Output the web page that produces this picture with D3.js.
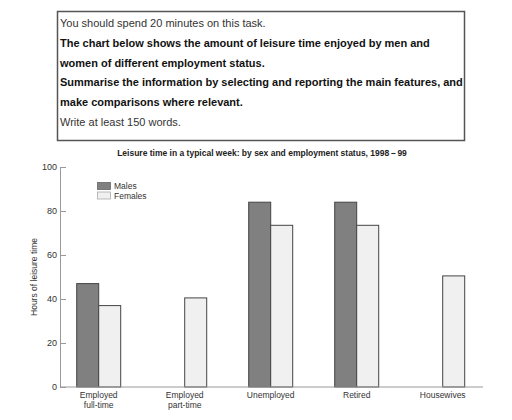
<!DOCTYPE html>
<html><head><meta charset="utf-8">
<script src="https://cdn.jsdelivr.net/npm/d3@7"></script>
<style>body{margin:0;background:#fff}svg{display:block}</style>
</head><body>
<svg id="c" width="512" height="420"></svg>
<script>
const categories = ["Employed\nfull-time", "Employed\npart-time", "Unemployed", "Retired", "Housewives"];
const males = [47, null, 84, 84, null];
const females = [37, 40.5, 73.5, 73.5, 50.5];
const series = ["Males", "Females"];
const yTicks = [0, 20, 40, 60, 80, 100];
const taskLines = [
  {t: "You should spend 20 minutes on this task.", b: false},
  {t: "The chart below shows the amount of leisure time enjoyed by men and", b: true},
  {t: "women of different employment status.", b: true},
  {t: "Summarise the information by selecting and reporting the main features, and", b: true},
  {t: "make comparisons where relevant.", b: true},
  {t: "Write at least 150 words.", b: false}
];
const title = "Leisure time in a typical week: by sex and employment status, 1998\u2009\u2013\u200999";
const yLabel = "Hours of leisure time";

const svg = d3.select("#c");
const font = "Liberation Sans, Arial, sans-serif";
const colors = {Males: "#808080", Females: "#f0f0f0"};

// task box
svg.append("rect").attr("x", 57.5).attr("y", 11.5).attr("width", 407).attr("height", 129)
  .attr("fill", "#fff").attr("stroke", "#555").attr("stroke-width", 1.5);
svg.selectAll("text.task").data(taskLines).join("text")
  .attr("class", "task")
  .attr("x", 60).attr("y", (d, i) => 27 + i * 19.8)
  .attr("font-family", font).attr("font-size", 11)
  .attr("font-weight", d => d.b ? "bold" : "normal")
  .attr("fill", d => d.b ? "#111" : "#333")
  .text(d => d.t);

// chart title
svg.append("text").attr("x", 262).attr("y", 156).attr("text-anchor", "middle")
  .attr("font-family", font).attr("font-size", 8.5).attr("font-weight", "bold").attr("fill", "#222")
  .text(title);

const y = d3.scaleLinear().domain([0, 100]).range([387, 167]);
const x0 = d3.scaleBand().domain(categories).range([55.7, 485.7]);
const bw = 22;
const x1 = d3.scaleBand().domain(series)
  .range([x0.bandwidth() / 2 - bw, x0.bandwidth() / 2 + bw]);

// y axis
const yAxis = svg.append("g").attr("transform", "translate(60,0)")
  .call(d3.axisLeft(y).tickValues(yTicks).tickSize(-6).tickSizeOuter(0).tickPadding(3));
yAxis.select(".domain").attr("stroke", "#999");
yAxis.selectAll(".tick line").attr("stroke", "#999");
yAxis.selectAll(".tick text").attr("font-family", font).attr("font-size", 9).attr("fill", "#333");

// bars
const data = categories.map((c, i) => ({c, vals: [{s: "Males", v: males[i]}, {s: "Females", v: females[i]}]}));
const g = svg.append("g");
const grp = g.selectAll("g").data(data).join("g")
  .attr("transform", d => `translate(${x0(d.c)},0)`);
grp.selectAll("rect").data(d => d.vals.filter(e => e.v != null)).join("rect")
  .attr("x", d => x1(d.s)).attr("width", x1.bandwidth())
  .attr("y", d => y(d.v)).attr("height", d => y(0) - y(d.v))
  .attr("fill", d => colors[d.s]).attr("stroke", "#444").attr("stroke-width", 1);

// x axis
const xAxis = svg.append("g").attr("transform", `translate(0,${y(0)})`)
  .call(d3.axisBottom(x0).tickSize(0).tickPadding(4).tickFormat(""));
xAxis.select(".domain").remove();
svg.append("line").attr("x1", 60).attr("x2", 483).attr("y1", y(0)).attr("y2", y(0))
  .attr("stroke", "#999");
xAxis.selectAll(".tick").each(function(d) {
  const t = d3.select(this).append("text").attr("fill", "#333")
    .attr("font-family", font).attr("font-size", 8.5).attr("text-anchor", "middle");
  d.split("\n").forEach((line, i) => {
    t.append("tspan").attr("x", 0).attr("y", 10.5 + i * 10.5).text(line);
  });
});

// y label
svg.append("text").attr("transform", "translate(37,277) rotate(-90)")
  .attr("text-anchor", "middle").attr("font-family", font).attr("font-size", 8.5).attr("fill", "#333")
  .text(yLabel);

// legend
const leg = svg.append("g").selectAll("g").data(series).join("g")
  .attr("transform", (d, i) => `translate(97.5,${182.5 + i * 9.5})`);
leg.append("rect").attr("width", 13).attr("height", 7)
  .attr("fill", d => colors[d]).attr("stroke", d => d === "Males" ? "#666" : "#aaa").attr("stroke-width", 0.8);
leg.append("text").attr("x", 16.5).attr("y", 6.5)
  .attr("font-family", font).attr("font-size", 8.5).attr("fill", "#333").text(d => d);
</script>
</body></html>
